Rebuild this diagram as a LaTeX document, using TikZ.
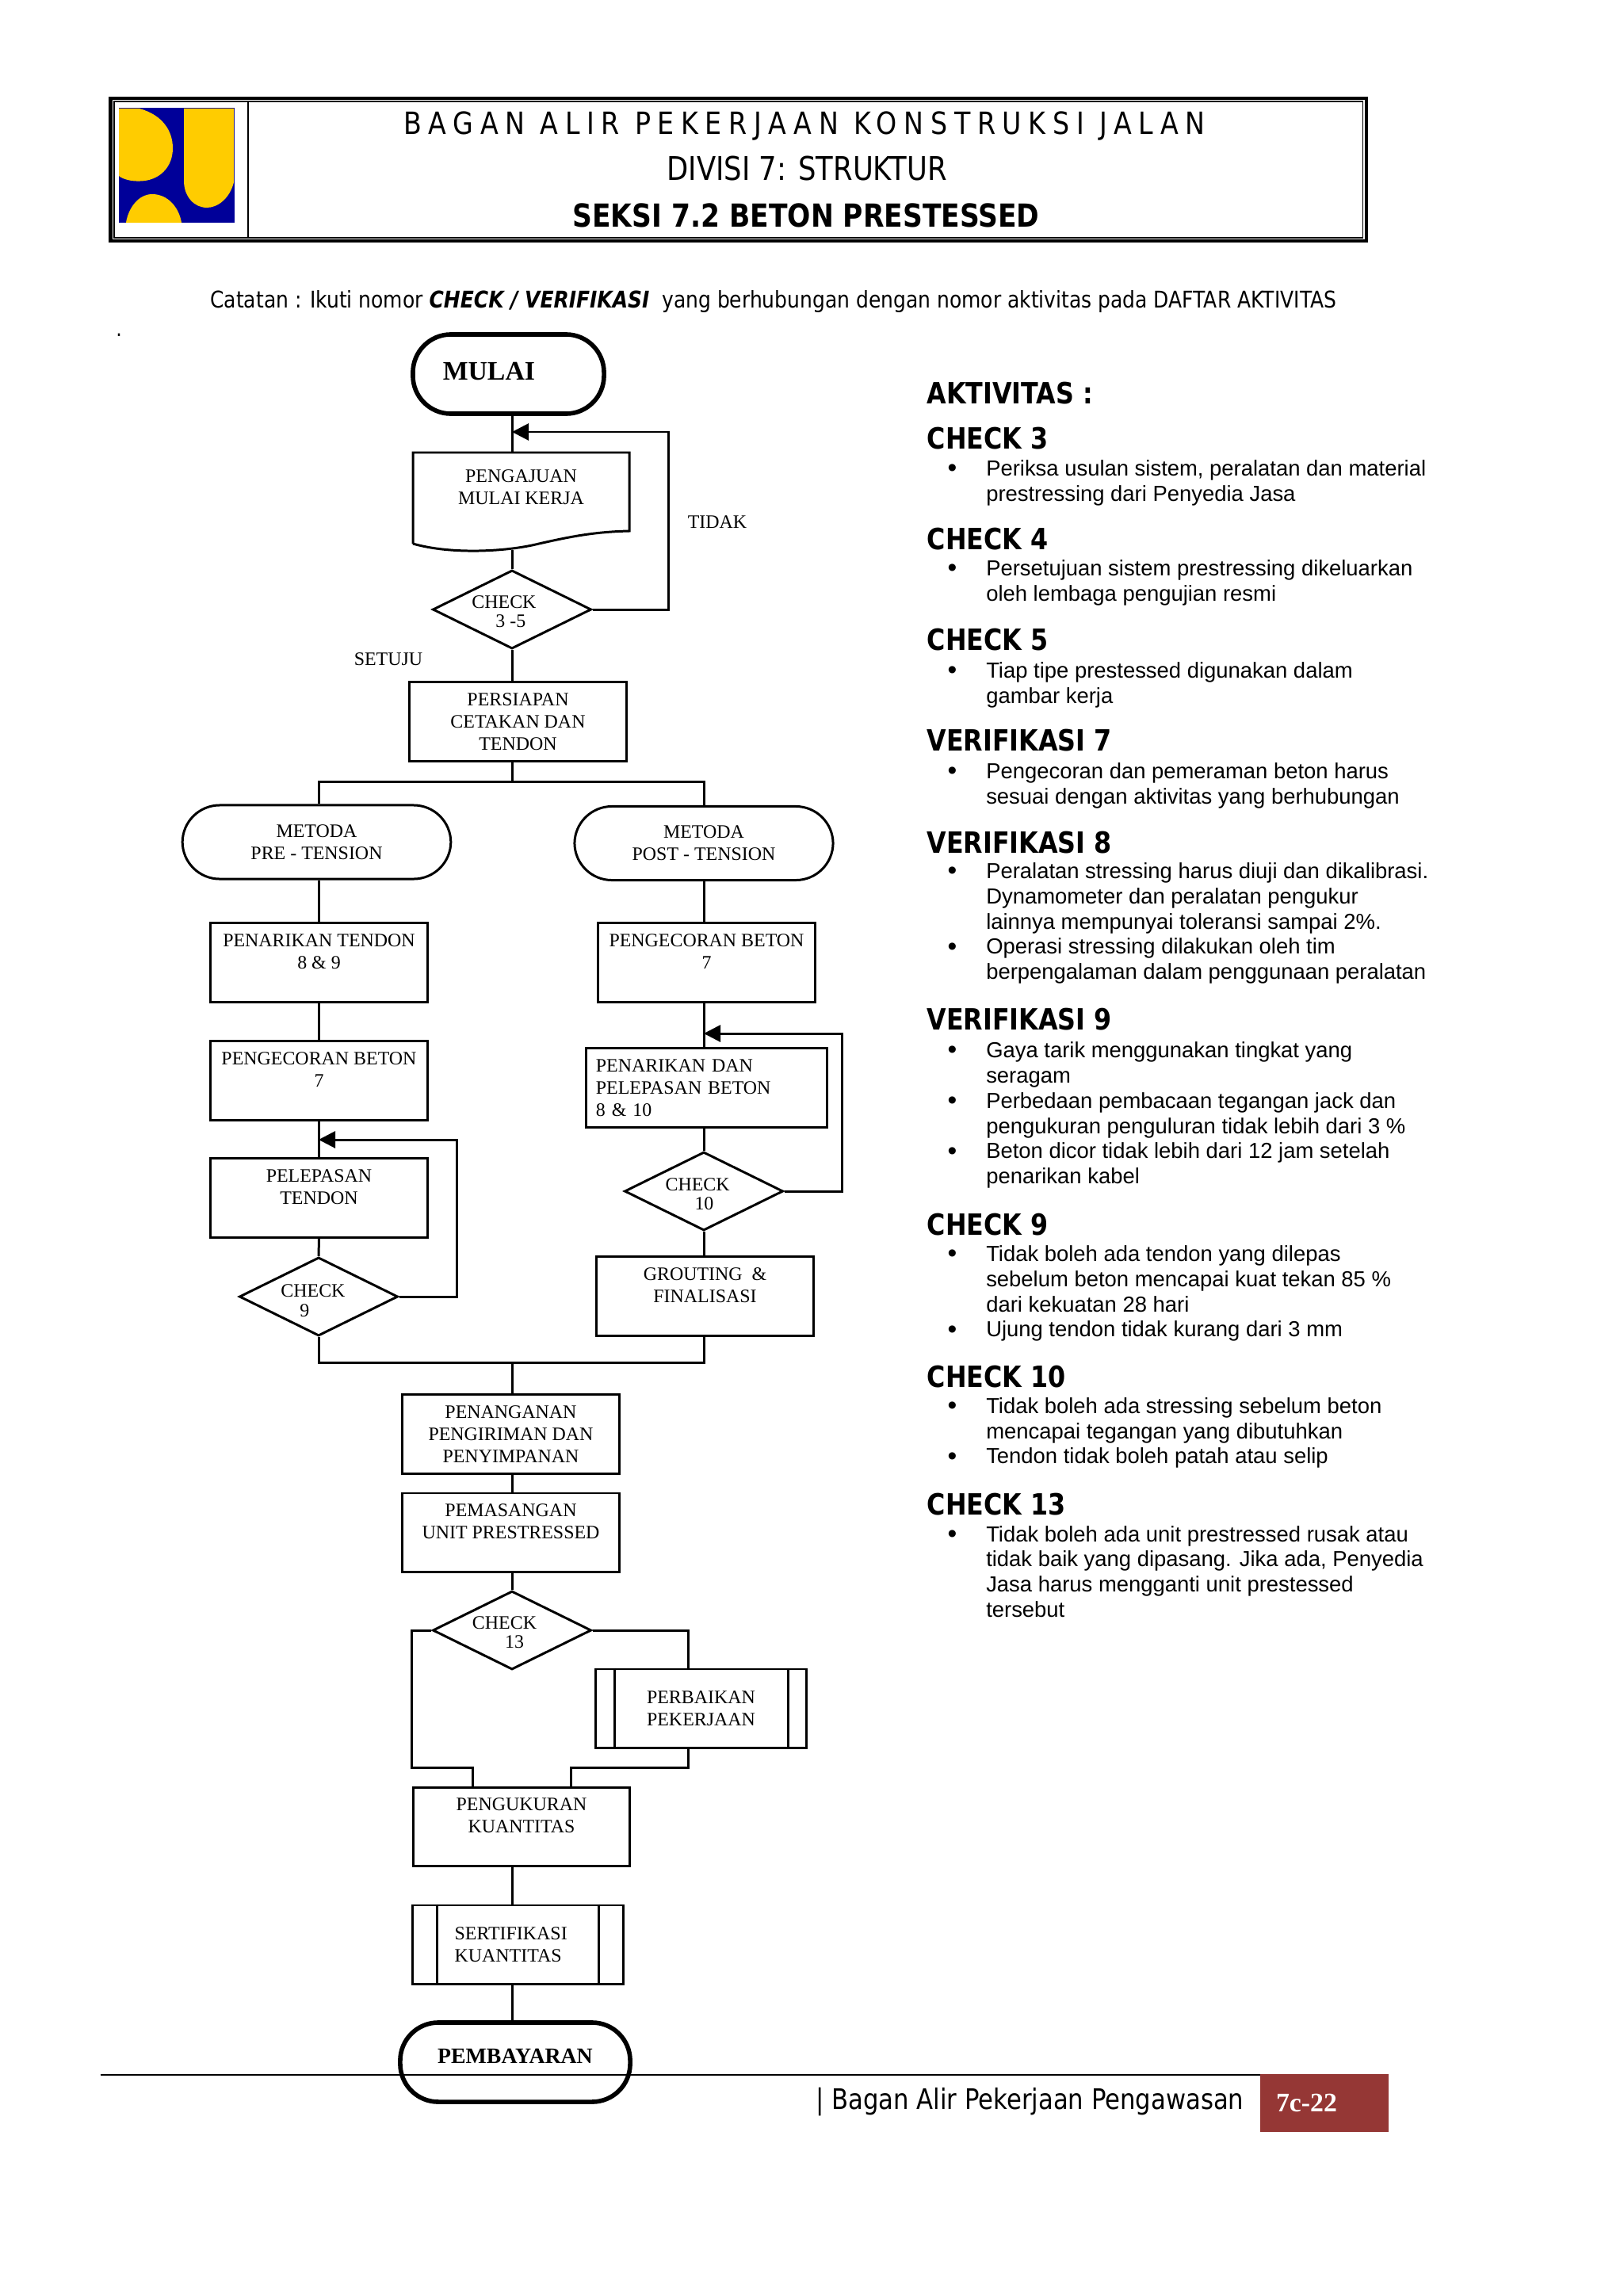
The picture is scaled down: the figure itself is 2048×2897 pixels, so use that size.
\documentclass[tikz,border=0pt]{standalone}
\usepackage{fontspec}
\setmainfont{Liberation Serif}
\newfontfamily\kopfont[FakeStretch=0.86]{DejaVu Sans}
\newfontfamily\arialfont{Liberation Sans}
\usetikzlibrary{arrows.meta,shapes.geometric}
\definecolor{logobiru}{HTML}{000099}
\definecolor{logokuning}{HTML}{FFCC00}
\definecolor{merahbata}{HTML}{953735}
\newcommand{\butir}{\makebox[13.8pt][l]{\raisebox{-0.4pt}{\fontsize{9.5pt}{9pt}\selectfont•}}}
\newcommand{\lanjut}{\hspace*{13.8pt}}
\tikzset{
    kotak/.style={draw, rectangle, line width=0.85pt, inner sep=0pt, align=center, minimum width=2.73cm, minimum height=0.99cm, font=\fontsize{6.8pt}{8pt}\selectfont},
    belah/.style={draw, diamond, aspect=2, line width=0.85pt, inner sep=0pt, align=left, minimum width=2cm, minimum height=0.99cm, font=\fontsize{6.8pt}{7pt}\selectfont},
    ujung/.style={draw, rectangle, rounded corners=0.47cm, line width=0.85pt, inner sep=0pt, align=center, minimum height=0.93cm, font=\fontsize{6.8pt}{8pt}\selectfont},
    ujungtebal/.style={ujung, line width=1.6pt, rounded corners=0.48cm, font=\fontsize{7.9pt}{9pt}\bfseries\selectfont},
    catatan/.style={font=\fontsize{6.8pt}{8pt}\selectfont, inner sep=0pt},
    judul/.style={anchor=west, inner sep=0pt, font=\fontsize{10.5pt}{12pt}\kopfont\bfseries\selectfont},
    isi/.style={anchor=west, inner sep=0pt, align=left, font=\fontsize{7.8pt}{9.05pt}\arialfont\selectfont},
    garis/.style={line width=0.85pt},
}
\begin{document}
\begin{tikzpicture}[x=0.01cm, y=-0.01cm, >={Triangle[length=6pt,width=6pt]}]
    \useasboundingbox (0,0) rectangle (2048,2897);

    % Kop
    \draw[line width=1.2pt] (139.5,124) rectangle (1724,304);
    \draw[line width=0.5pt] (144,128) rectangle (1719.5,300);
    \draw[line width=0.5pt] (313,128) -- (313,300);
    \fill[logobiru] (150,136) rectangle (296,281);
    \fill[logokuning] (150,137) -- (176,137) .. controls (205,145) and (218,165) .. (218,187) .. controls (218,212) and (200,228) .. (177,228.5) .. controls (165,229) and (155,226) .. (150,222) -- cycle;
    \fill[logokuning] (232,137) -- (295,137) -- (295,230) .. controls (290,250) and (275,262) .. (261,262) .. controls (245,262) and (232,248) .. (232,228) -- cycle;
    \fill[logokuning] (159,281) .. controls (162,262) and (175,245) .. (192,245) .. controls (212,245) and (226,262) .. (229,281) -- cycle;
    \node[inner sep=0pt, font=\fontsize{11pt}{13pt}\kopfont\addfontfeature{LetterSpace=22.4}\selectfont] (kopsatu) at (1015,159) {BAGAN ALIR PEKERJAAN KONSTRUKSI JALAN};
    \node[inner sep=0pt, font=\fontsize{11.7pt}{13pt}\kopfont\selectfont] (kopdua) at (1018,213) {DIVISI 7: STRUKTUR};
    \node[inner sep=0pt, font=\fontsize{11.4pt}{13pt}\kopfont\bfseries\selectfont] (koptiga) at (1017,272) {SEKSI 7.2 BETON PRESTESSED};
    \node[anchor=west, inner sep=0pt, font=\fontsize{8.26pt}{10pt}\kopfont\selectfont] (ikuti) at (264.7,380) {Catatan : Ikuti nomor \textbf{\textit{CHECK / VERIFIKASI}}~ yang berhubungan dengan nomor aktivitas pada DAFTAR AKTIVITAS};
    \node[inner sep=0pt, font=\fontsize{7.8pt}{9pt}\kopfont\selectfont] (titik) at (150,423) {.};

    % Alur atas
    \node[ujungtebal, minimum width=2.41cm, minimum height=1cm, font=\fontsize{9.6pt}{11pt}\bfseries\selectfont] (mulai) at (641.5,472) {\raisebox{2.1pt}{MULAI}\hspace*{14pt}};
    \node[catatan, align=center, minimum width=2.73cm, minimum height=1.15cm] (pengajuan) at (657.5,628.5) {PENGAJUAN\\MULAI KERJA\\~};
    \draw[garis] (521,686) -- (521,571) -- (794,571) -- (794,670) .. controls (750,671) and (720,677) .. (680,686) .. controls (640,696) and (570,700) .. (521,686);
    \coordinate (bawahdok) at (646,694);
    \node[belah] (cektiga) at (646,769) {\rule{0pt}{6.1pt}CHECK\hspace*{5.7pt}\\\hspace*{8.5pt}3 -5};
    \node[catatan] (tidak) at (905,659) {TIDAK};
    \node[catatan] (setuju) at (490,832) {SETUJU};
    \node[kotak] (persiapan) at (653.5,910.5) {PERSIAPAN\\CETAKAN DAN\\TENDON};
    \coordinate (balikatas) at (843,545);
    \coordinate (cabang) at (646,986);
    \draw[garis] (mulai.south -| cektiga.north) -- (pengajuan.north -| cektiga.north);
    \draw[garis] (bawahdok) -- (cektiga.north);
    \draw[garis, ->] (cektiga.east) -| (balikatas) -- (cektiga.north |- balikatas);
    \draw[garis] (cektiga.south) -- (cektiga.south |- persiapan.north);
    \draw[garis] (cektiga.south |- persiapan.south) -- (cabang);

    % Metoda
    \node[ujung, minimum width=3.385cm] (pretension) at (399.5,1062.5) {METODA\\PRE - TENSION};
    \node[ujung, minimum width=3.26cm] (posttension) at (888,1064) {METODA\\POST - TENSION};

    % Jalur kiri
    \node[kotak] (tarikkiri) at (402.5,1214.5) {PENARIKAN TENDON\\8 \& 9\\~};
    \node[kotak] (corkiri) at (402.5,1363.5) {PENGECORAN BETON\\7\\~};
    \node[kotak] (lepas) at (402.5,1511.5) {PELEPASAN\\TENDON\\~};
    \node[belah] (cekkiri) at (402,1636) {\rule{0pt}{7.3pt}CHECK\hspace*{4pt}\\\hspace*{6.8pt}9};
    \coordinate (balikkiri) at (576.5,1438);
    \draw[garis] (cabang) -| (tarikkiri.north |- pretension.north);
    \draw[garis] (tarikkiri.north |- pretension.south) -- (tarikkiri.north);
    \draw[garis] (tarikkiri.south) -- (corkiri.north);
    \draw[garis] (corkiri.south) -- (lepas.north);
    \draw[garis] (lepas.south) -- (cekkiri.north);
    \draw[garis, ->] (cekkiri.east) -| (balikkiri) -- (cekkiri.north |- balikkiri);

    % Jalur kanan
    \node[kotak] (corkanan) at (891.5,1214.5) {PENGECORAN BETON\\7\\~};
    \node[kotak, align=left, minimum width=3.03cm, text width=2.79cm] (tarikkanan) at (891.5,1372.5) {PENARIKAN DAN\\PELEPASAN BETON\\8 \& 10};
    \node[belah] (cekkanan) at (888,1503) {\rule{0pt}{6.5pt}CHECK\hspace*{4.5pt}\\\hspace*{10.5pt}10};
    \node[kotak] (grouting) at (889.5,1635.5) {GROUTING~ \&\\FINALISASI\\~};
    \coordinate (balikkanan) at (1062,1304);
    \draw[garis] (cabang) -| (posttension.north);
    \draw[garis] (posttension.south) -- (posttension.south |- corkanan.north);
    \draw[garis] (posttension.south |- corkanan.south) -- (posttension.south |- tarikkanan.north);
    \draw[garis] (cekkanan.north |- tarikkanan.south) -- (cekkanan.north);
    \draw[garis] (cekkanan.south) -- (cekkanan.south |- grouting.north);
    \draw[garis, ->] (cekkanan.east) -| (balikkanan) -- (cekkanan.north |- balikkanan);

    % Alur bawah
    \coordinate (gabung) at (646,1719);
    \node[kotak] (penanganan) at (644.5,1809.5) {PENANGANAN\\PENGIRIMAN DAN\\PENYIMPANAN};
    \node[kotak] (pemasangan) at (644.5,1933.5) {PEMASANGAN\\UNIT PRESTRESSED\\~};
    \node[belah] (cektiga13) at (646,2057) {\rule{0pt}{6.1pt}CHECK\hspace*{5.4pt}\\\hspace*{11.7pt}13};
    \node[kotak, minimum width=2.65cm] (perbaikan) at (884.5,2155.5) {PERBAIKAN\\PEKERJAAN};
    \node[kotak] (pengukuran) at (658,2305) {PENGUKURAN\\KUANTITAS\\~};
    \node[kotak, minimum width=2.65cm, align=left] (sertifikasi) at (653.5,2453.5) {SERTIFIKASI\hspace*{5pt}\\KUANTITAS};
    \node[ujungtebal, minimum width=2.9cm, minimum height=1cm] (pembayaran) at (650,2602) {\raisebox{4.5pt}{PEMBAYARAN}};
    \coordinate (kirimasuk) at (596.4,2230);
    \coordinate (kananmasuk) at (720,2230);
    \draw[garis] (cekkiri.south) |- (gabung) -| (cekkanan.south |- grouting.south);
    \draw[garis] (gabung) -- (gabung |- penanganan.north);
    \draw[garis] (gabung |- penanganan.south) -- (gabung |- pemasangan.north);
    \draw[garis] (gabung |- pemasangan.south) -- (cektiga13.north);
    \draw[garis] (cektiga13.east) -| (868,2106);
    \draw[garis] (868,2205) |- (kananmasuk) -- (kananmasuk |- pengukuran.north);
    \draw[garis] (cektiga13.west) -| (pengukuran.west |- kirimasuk) -- (kirimasuk) -- (kirimasuk |- pengukuran.north);
    \draw[garis] (gabung |- pengukuran.south) -- (gabung |- sertifikasi.north);
    \draw[garis] (gabung |- sertifikasi.south) -- (gabung |- pembayaran.north);
    \draw[garis] ([xshift=0.25cm]perbaikan.north west) -- ([xshift=0.25cm]perbaikan.south west);
    \draw[garis] ([xshift=-0.24cm]perbaikan.north east) -- ([xshift=-0.24cm]perbaikan.south east);
    \draw[garis] ([xshift=0.32cm]sertifikasi.north west) -- ([xshift=0.32cm]sertifikasi.south west);
    \draw[garis] ([xshift=-0.32cm]sertifikasi.north east) -- ([xshift=-0.32cm]sertifikasi.south east);

    % Kaki halaman
    \draw[line width=0.8pt] (126.5,2618) -- (1592,2618);
    \node[fill=merahbata, text=white, inner sep=0pt, minimum width=1.62cm, minimum height=0.73cm, font=\fontsize{9.6pt}{11pt}\bfseries\selectfont] (halaman) at (1671,2653.5) {7c-22\hspace*{12.8pt}};
    \node[anchor=east, inner sep=0pt, font=\fontsize{10.15pt}{12pt}\kopfont\selectfont] (kaki) at (1570,2652) {| Bagan Alir Pekerjaan Pengawasan};

    % Daftar aktivitas
    \node[judul] (aktivitas) at (1169,496) {AKTIVITAS :};
    \node[judul] (cek3) at (1169,553) {CHECK 3};
    \node[isi] (isi3) at (1195,609) {\butir Periksa usulan sistem, peralatan dan material\\\lanjut prestressing dari Penyedia Jasa};
    \node[judul] (cek4) at (1169,680) {CHECK 4};
    \node[isi] (isi4) at (1195,735) {\butir Persetujuan sistem prestressing dikeluarkan\\\lanjut oleh lembaga pengujian resmi};
    \node[judul] (cek5) at (1169,807) {CHECK 5};
    \node[isi] (isi5) at (1195,864) {\butir Tiap tipe prestessed digunakan dalam\\\lanjut gambar kerja};
    \node[judul] (ver7) at (1169,934.5) {VERIFIKASI 7};
    \node[isi] (isi7) at (1195,991) {\butir Pengecoran dan pemeraman beton harus\\\lanjut sesuai dengan aktivitas yang berhubungan};
    \node[judul] (ver8) at (1169,1063) {VERIFIKASI 8};
    \node[isi] (isi8) at (1195,1165) {\butir Peralatan stressing harus diuji dan dikalibrasi.\\\lanjut Dynamometer dan peralatan pengukur\\\lanjut lainnya mempunyai toleransi sampai 2\%.\\\butir Operasi stressing dilakukan oleh tim\\\lanjut berpengalaman dalam penggunaan peralatan};
    \node[judul] (ver9) at (1169,1286.5) {VERIFIKASI 9};
    \node[isi] (isi9) at (1195,1407) {\butir Gaya tarik menggunakan tingkat yang\\\lanjut seragam\\\butir Perbedaan pembacaan tegangan jack dan\\\lanjut pengukuran penguluran tidak lebih dari 3 \%\\\butir Beton dicor tidak lebih dari 12 jam setelah\\\lanjut penarikan kabel};
    \node[judul] (cek9) at (1169,1545) {CHECK 9};
    \node[isi] (isi9b) at (1195,1632) {\butir Tidak boleh ada tendon yang dilepas\\\lanjut sebelum beton mencapai kuat tekan 85 \%\\\lanjut dari kekuatan 28 hari\\\butir Ujung tendon tidak kurang dari 3 mm};
    \node[judul] (cek10) at (1169,1737.5) {CHECK 10};
    \node[isi] (isi10) at (1195,1808) {\butir Tidak boleh ada stressing sebelum beton\\\lanjut mencapai tegangan yang dibutuhkan\\\butir Tendon tidak boleh patah atau selip};
    \node[judul] (cek13) at (1169,1898) {CHECK 13};
    \node[isi] (isi13) at (1195,1983) {\butir Tidak boleh ada unit prestressed rusak atau\\\lanjut tidak baik yang dipasang. Jika ada, Penyedia\\\lanjut Jasa harus mengganti unit prestessed\\\lanjut tersebut};
\end{tikzpicture}
\end{document}
